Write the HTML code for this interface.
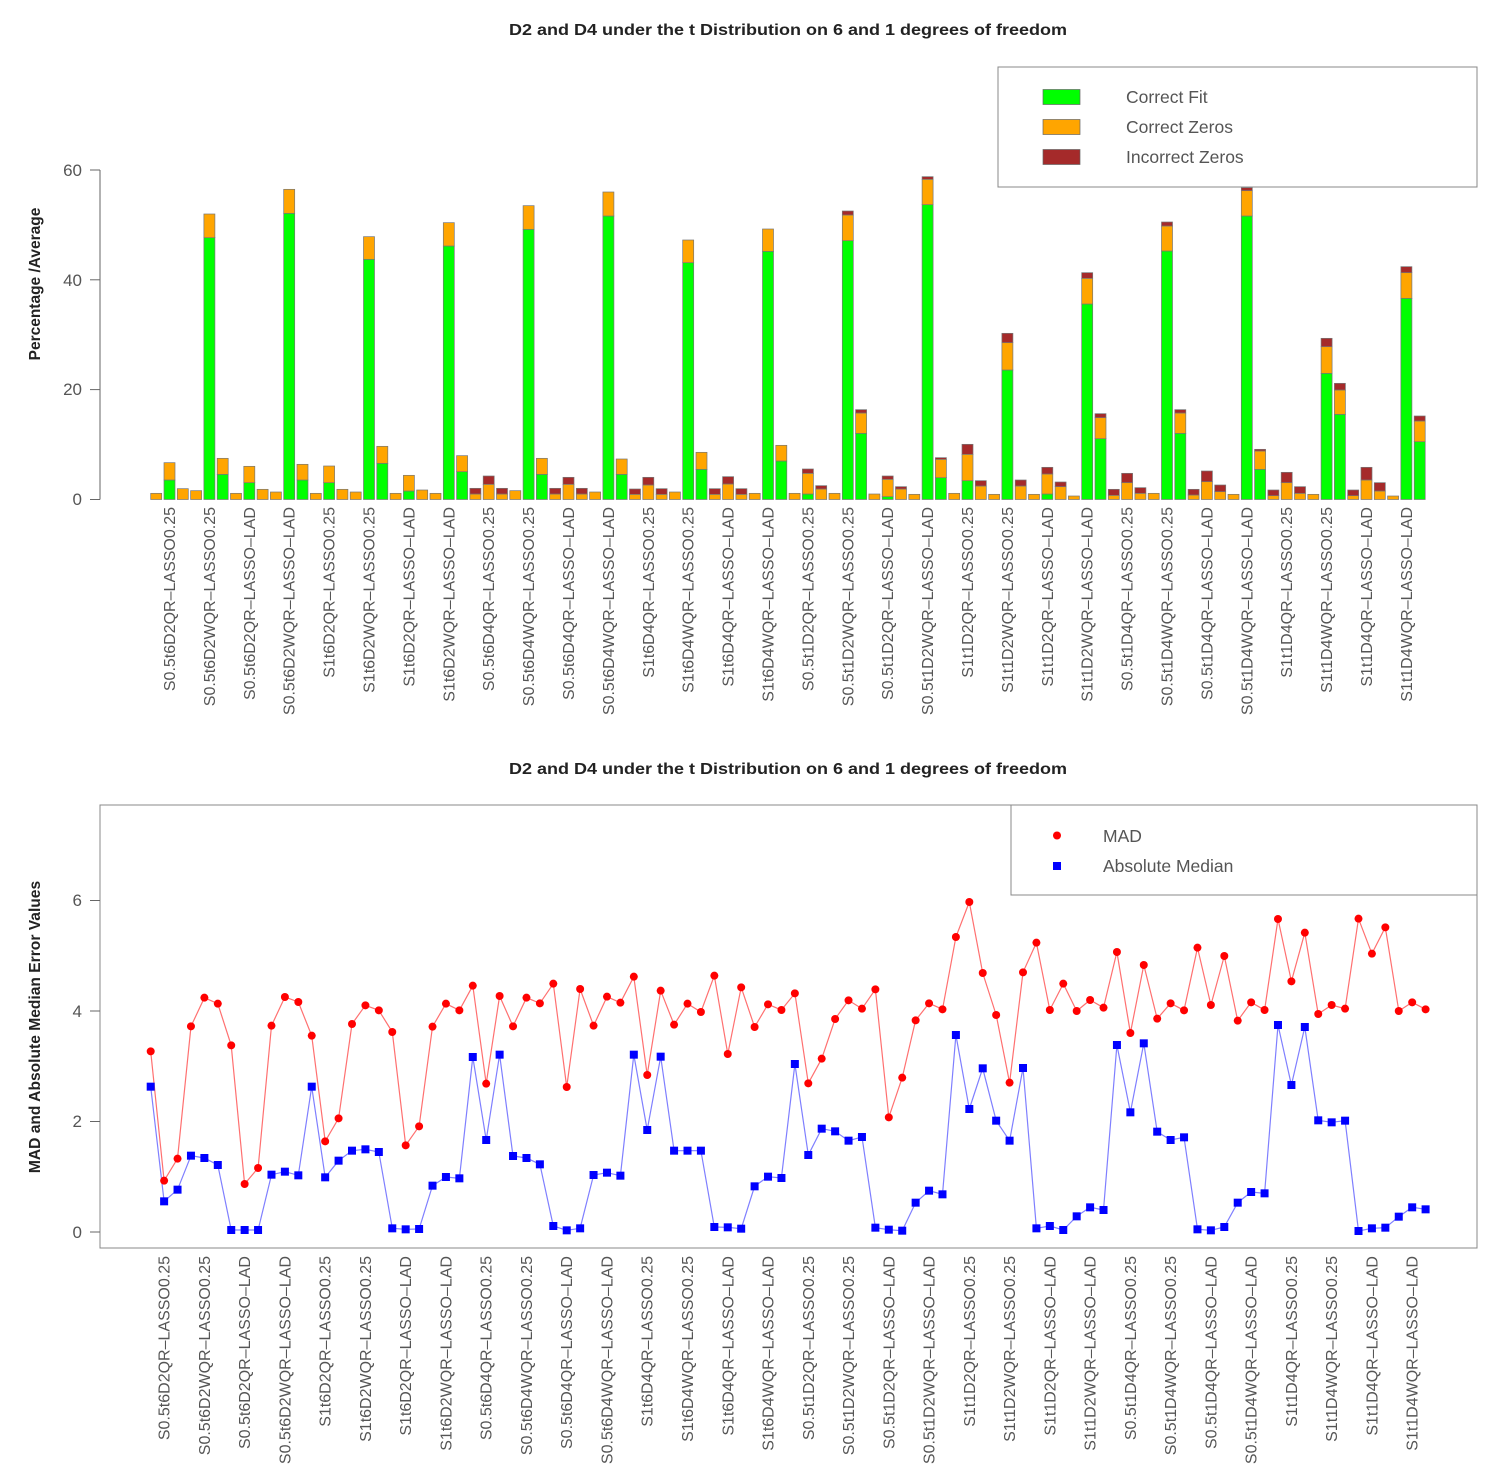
<!DOCTYPE html>
<html><head><meta charset="utf-8"><style>
html,body{margin:0;padding:0;background:#fff;}
svg{display:block;font-family:"Liberation Sans",Arial,sans-serif;}
</style></head><body>
<svg id="s" width="1512" height="1481" viewBox="0 0 1512 1481" xmlns="http://www.w3.org/2000/svg">
<rect width="1512" height="1481" fill="#fff"/>
<text x="788" y="35" text-anchor="middle" font-size="16" font-weight="bold" fill="#222" textLength="558" lengthAdjust="spacingAndGlyphs">D2 and D4 under the t Distribution on 6 and 1 degrees of freedom</text>
<text x="788" y="774" text-anchor="middle" font-size="16" font-weight="bold" fill="#222" textLength="558" lengthAdjust="spacingAndGlyphs">D2 and D4 under the t Distribution on 6 and 1 degrees of freedom</text>
<g stroke="#666" stroke-width="1" fill="none">
<line x1="100" y1="170" x2="100" y2="499.5"/>
<line x1="90" y1="170" x2="100" y2="170"/>
<line x1="90" y1="279.8" x2="100" y2="279.8"/>
<line x1="90" y1="389.6" x2="100" y2="389.6"/>
<line x1="90" y1="499.5" x2="100" y2="499.5"/>
</g>
<g font-size="17" fill="#555" text-anchor="end">
<text x="82" y="176">60</text><text x="82" y="286">40</text><text x="82" y="395">20</text><text x="82" y="505">0</text>
</g>
<text transform="translate(40,284) rotate(-90)" text-anchor="middle" font-size="15.5" font-weight="bold" fill="#222">Percentage /Average</text>
<g id="bars"></g>
<g id="toplabels" font-size="16" fill="#555"></g>
<rect x="998" y="67" width="479" height="120" fill="#fff" stroke="#888" stroke-width="1"/>
<rect x="1043" y="89.5" width="37" height="15" fill="#00ff00" stroke="#666" stroke-width="0.7"/>
<rect x="1043" y="119.5" width="37" height="15" fill="#ffa500" stroke="#666" stroke-width="0.7"/>
<rect x="1043" y="149.5" width="37" height="15" fill="#a52a2a" stroke="#666" stroke-width="0.7"/>
<g font-size="17.5" fill="#555">
<text x="1126" y="103">Correct Fit</text>
<text x="1126" y="133">Correct Zeros</text>
<text x="1126" y="163">Incorrect Zeros</text>
</g>
<rect x="100" y="805" width="1377" height="443" fill="none" stroke="#888" stroke-width="1"/>
<g stroke="#666" stroke-width="1">
<line x1="90" y1="900.5" x2="100" y2="900.5"/>
<line x1="90" y1="1011" x2="100" y2="1011"/>
<line x1="90" y1="1121.5" x2="100" y2="1121.5"/>
<line x1="90" y1="1232" x2="100" y2="1232"/>
</g>
<g font-size="17" fill="#555" text-anchor="end">
<text x="82" y="906">6</text><text x="82" y="1017">4</text><text x="82" y="1127">2</text><text x="82" y="1238">0</text>
</g>
<text transform="translate(40,1027) rotate(-90)" text-anchor="middle" font-size="15.6" font-weight="bold" fill="#222">MAD and Absolute Median Error Values</text>
<g id="lines"></g>
<g id="botlabels" font-size="16" fill="#555"></g>
<rect x="1011" y="805" width="466" height="90" fill="#fff" stroke="#888" stroke-width="1"/>
<circle cx="1057" cy="835.5" r="4" fill="#ff0000"/>
<rect x="1053" y="862" width="8" height="8" fill="#0000ff"/>
<g font-size="17.5" fill="#555">
<text x="1103" y="842">MAD</text>
<text x="1103" y="872">Absolute Median</text>
</g>
</svg>
<script>
var NS="http://www.w3.org/2000/svg";
function el(t,a,p){var e=document.createElementNS(NS,t);for(var k in a)e.setAttribute(k,a[k]);p.appendChild(e);return e;}
var B=[[0,1000,0],[960,908,0],[0,986,0],[0,992,0],[233,162,0],[943,895,0],[0,1000,0],[968,919,0],[0,988,0],[0,996,0],
[160,88,0],[960,913,0],[0,1000,0],[968,918,0],[0,988,0],[0,996,0],[298,230,0],[910,859,0],[0,1000,0],[993,946,0],
[0,990,0],[0,1000,0],[258,188,0],[935,887,0],[0,1002,985],[0,973,948],[0,1002,985],[0,992,0],[208,137,0],[943,895,0],
[0,1002,985],[0,973,952],[0,1002,985],[0,996,0],[168,96,0],[943,897,0],[0,1003,987],[0,975,952],[0,1003,986],[0,996,0],
[308,240,0],[928,877,0],[0,1003,986],[0,972,950],[0,1003,986],[0,1000,0],[274,207,0],[903,856,0],[0,1000,0],[1002,940,927],
[0,987,977],[0,1000,0],[242,165,153],[820,759,749],[0,1002,0],[1010,958,948],[0,987,980],[0,1003,0],[134,58,50],[953,898,893],
[0,1000,0],[962,883,853],[0,978,962],[0,1003,0],[630,548,520],[0,978,960],[0,1003,0],[1002,942,922],[0,980,966],[0,1008,0],
[432,355,338],[836,773,761],[0,1006,988],[0,968,940],[0,1000,983],[0,1000,0],[273,198,186],[820,759,749],[0,1005,988],[0,965,933],
[0,995,975],[0,1003,0],[168,92,83],[928,873,868],[0,1007,990],[0,968,937],[0,1000,980],[0,1003,0],[640,560,535],[763,690,670],
[0,1007,990],[0,960,922],[0,993,968],[0,1008,0],[415,338,320],[845,783,768]];
var g=document.getElementById('bars'),base=499.5;
function Y(z){return 160+z/3;}
B.forEach(function(b,i){
 var x=150.7+13.3*i,w=11,cur=base;
 if(b[0]){var y=Y(b[0]);el('rect',{x:x,y:y,width:w,height:cur-y,fill:'#00ff00',stroke:'#777','stroke-width':0.7},g);cur=y;}
 if(b[1]){var y=Y(b[1]);el('rect',{x:x,y:y,width:w,height:cur-y,fill:'#ffa500',stroke:'#777','stroke-width':0.7},g);cur=y;}
 if(b[2]){var y=Y(b[2]);el('rect',{x:x,y:y,width:w,height:cur-y,fill:'#a52a2a',stroke:'#777','stroke-width':0.7},g);cur=y;}
});
var names=[];
["t6","t1"].forEach(function(t){["D2","D4"].forEach(function(d){["S0.5","S1"].forEach(function(s){
 names.push(s+t+d+"QR\u2013LASSO0.25");names.push(s+t+d+"WQR\u2013LASSO0.25");
 names.push(s+t+d+"QR\u2013LASSO\u2013LAD");names.push(s+t+d+"WQR\u2013LASSO\u2013LAD");
});});});
var tl=document.getElementById('toplabels'),bl=document.getElementById('botlabels');
names.forEach(function(n,j){
 var cx=150.7+13.3*(3*j+1)+5.5+5.5;
 var t=el('text',{transform:'translate('+cx+',507) rotate(-90)','text-anchor':'end'},tl);t.textContent=n;
 var bx=150.7+13.42*(3*j+1)+5.5;
 var t2=el('text',{transform:'translate('+bx+',1256) rotate(-90)','text-anchor':'end'},bl);t2.textContent=n;
});
var R=[544,932,866,469,383,401,526,942,894,467,381,396,497,814,745,462,406,421,486,826,769,470,401,421,347,641,378,469,383,400,341,651,
357,467,380,398,320,615,362,464,401,426,317,552,352,471,403,420,370,640,566,447,391,416,358,742,623,451,400,418,201,96,309,435,
638,307,218,420,341,423,390,413,246,489,285,446,400,421,233,405,258,452,397,420,147,334,188,432,405,416,146,251,172,423,397,418];
var Bl=[650,994,959,857,864,885,1080,1080,1080,914,905,916,650,922,872,842,838,846,1075,1078,1077,947,921,925,561,810,554,858,864,883,1068,1081,
1075,915,908,917,554,780,560,842,842,842,1071,1072,1076,949,920,924,582,855,776,784,812,801,1073,1079,1082,998,962,973,495,717,595,752,
812,594,1075,1068,1080,1039,1012,1020,525,727,520,785,810,802,1078,1081,1071,998,966,970,465,645,471,751,757,752,1083,1075,1073,1040,1012,1018];
var L=document.getElementById('lines');
function px(i){return 150.7+13.42*i;}function py(z){return 870+z/3;}
var pr=R.map(function(z,i){return px(i).toFixed(1)+','+py(z).toFixed(1);}).join(' ');
var pb=Bl.map(function(z,i){return px(i).toFixed(1)+','+py(z).toFixed(1);}).join(' ');
el('polyline',{points:pb,fill:'none',stroke:'#7f7fff','stroke-width':1.2},L);
el('polyline',{points:pr,fill:'none',stroke:'#ff7070','stroke-width':1.2},L);
Bl.forEach(function(z,i){el('rect',{x:px(i)-4,y:py(z)-4,width:8,height:8,fill:'#0000ff'},L);});
R.forEach(function(z,i){el('circle',{cx:px(i),cy:py(z),r:4,fill:'#ff0000'},L);});
</script>
</body></html>
